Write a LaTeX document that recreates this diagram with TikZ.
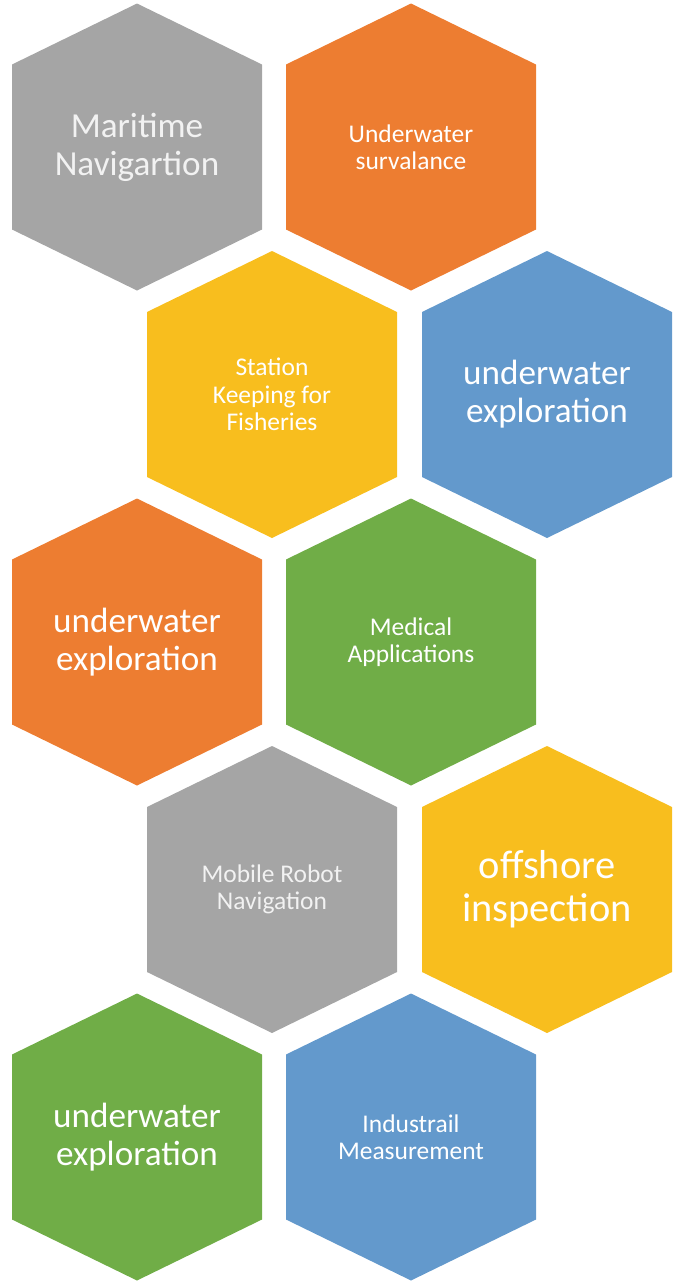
\documentclass[tikz,border=0pt]{standalone}
\usepackage{fontspec}
\setmainfont{Carlito}
\usepackage{tikz}
\usepackage{xcolor}
\usetikzlibrary{positioning,calc}
\definecolor{hexgray}{RGB}{165,165,165}
\definecolor{hexorange}{RGB}{237,125,49}
\definecolor{hexyellow}{RGB}{248,190,30}
\definecolor{hexblue}{RGB}{99,153,204}
\definecolor{hexgreen}{RGB}{112,173,71}

\begin{document}
\begin{tikzpicture}[x=0.02cm,y=-0.02cm,
    biglabel/.style={text=white,align=center,font=\fontsize{20}{21.5}\selectfont},
    hugelabel/.style={text=white,align=center,font=\fontsize{23}{24.5}\selectfont},
    smalllabel/.style={text=white,align=center,font=\fontsize{14.5}{15.5}\selectfont}]
    \useasboundingbox (0,0) rectangle (685,1286);

    % Row 1
    \fill[hexgray] (137,3.5) -- ++(125,61) -- ++(0,165) -- ++(-125,61) -- ++(-125,-61) -- ++(0,-165) -- cycle;
    \node[biglabel,text=white!90!gray] (maritime) at (137,147) {Maritime\\Navigartion};

    \fill[hexorange] (411,3.5) -- ++(125,61) -- ++(0,165) -- ++(-125,61) -- ++(-125,-61) -- ++(0,-165) -- cycle;
    \node[smalllabel] (surveil) at (411,147) {Underwater\\survalance};

    % Row 2
    \fill[hexyellow] (272,251) -- ++(125,61) -- ++(0,165) -- ++(-125,61) -- ++(-125,-61) -- ++(0,-165) -- cycle;
    \node[smalllabel] (fisheries) at (272,394.5) {Station\\Keeping for\\Fisheries};

    \fill[hexblue] (547,251) -- ++(125,61) -- ++(0,165) -- ++(-125,61) -- ++(-125,-61) -- ++(0,-165) -- cycle;
    \node[biglabel] (explorea) at (547,394.5) {underwater\\exploration};

    % Row 3
    \fill[hexorange] (137,498.5) -- ++(125,61) -- ++(0,165) -- ++(-125,61) -- ++(-125,-61) -- ++(0,-165) -- cycle;
    \node[biglabel] (exploreb) at (137,642) {underwater\\exploration};

    \fill[hexgreen] (411,498.5) -- ++(125,61) -- ++(0,165) -- ++(-125,61) -- ++(-125,-61) -- ++(0,-165) -- cycle;
    \node[smalllabel] (medical) at (411,642) {Medical\\Applications};

    % Row 4
    \fill[hexgray] (272,746) -- ++(125,61) -- ++(0,165) -- ++(-125,61) -- ++(-125,-61) -- ++(0,-165) -- cycle;
    \node[smalllabel,text=white!90!gray] (robot) at (272,889.5) {Mobile Robot\\Navigation};

    \fill[hexyellow] (547,746) -- ++(125,61) -- ++(0,165) -- ++(-125,61) -- ++(-125,-61) -- ++(0,-165) -- cycle;
    \node[hugelabel] (offshore) at (547,889.5) {offshore\\inspection};

    % Row 5
    \fill[hexgreen] (137,993.5) -- ++(125,61) -- ++(0,165) -- ++(-125,61) -- ++(-125,-61) -- ++(0,-165) -- cycle;
    \node[biglabel] (explorec) at (137,1137) {underwater\\exploration};

    \fill[hexblue] (411,993.5) -- ++(125,61) -- ++(0,165) -- ++(-125,61) -- ++(-125,-61) -- ++(0,-165) -- cycle;
    \node[smalllabel] (industry) at (411,1137) {Industrail\\Measurement};
\end{tikzpicture}
\end{document}
